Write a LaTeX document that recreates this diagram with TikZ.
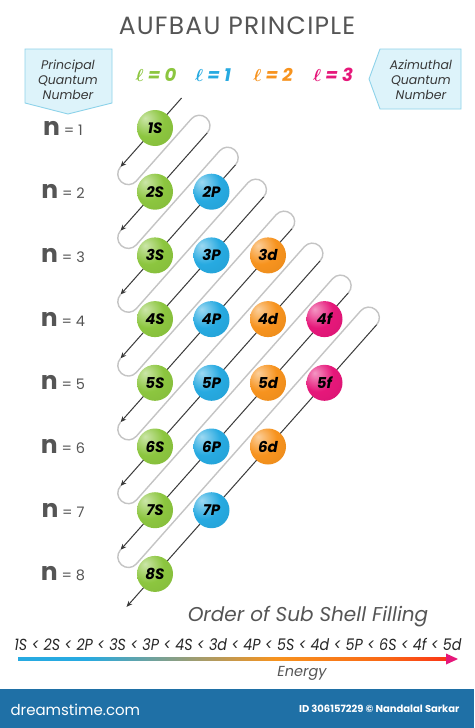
\documentclass[tikz,border=0pt]{standalone}
\usepackage{fontspec}
\setmainfont{Poppins}
\usetikzlibrary{arrows.meta,calc}
\definecolor{cS}{HTML}{8CC63F}
\definecolor{cP}{HTML}{27AAE1}
\definecolor{cD}{HTML}{F7931E}
\definecolor{cF}{HTML}{E6177A}
\definecolor{txt}{HTML}{555555}
\definecolor{boxfill}{HTML}{DDF3FA}
\definecolor{boxline}{HTML}{8ED3EA}
\definecolor{banner}{HTML}{1F70A6}
\definecolor{loopgrey}{HTML}{C4C4C4}
\definecolor{arrowblk}{HTML}{3A3A3A}
\colorlet{sph}{cS}
\pgfdeclareradialshading[sph]{sphere}{\pgfpoint{-14bp}{14bp}}{color(0bp)=(sph!45!white); color(22bp)=(sph); color(50bp)=(sph!92!black); color(72bp)=(sph!80!black)}
\pgfdeclarehorizontalshading{energy}{100bp}{color(0bp)=(cS); color(7bp)=(cS!50!cP); color(14bp)=(cP); color(33bp)=(cP); color(55bp)=(cD); color(68bp)=(cD!70!red); color(82bp)=(red!80!cF); color(100bp)=(cF)}
\begin{document}
\begin{tikzpicture}[x=1pt,y=-1pt,
  orb/.style={circle, minimum size=36pt, inner sep=0pt, /utils/exec={\colorlet{sph}{#1}}, shading=sphere, text=black, font=\fontsize{15}{15}\selectfont\bfseries\itshape},
  nlab/.style={text=txt, font=\fontsize{14.5}{14.5}\selectfont},
  llab/.style={text=#1, font=\fontsize{18}{18}\selectfont\itshape\bfseries\boldmath},
  callout/.style={draw=boxline, fill=boxfill, line width=0.9pt},
  calltext/.style={align=center, text=black!78, font=\fontsize{12.5}{15}\selectfont\itshape},
  diagline/.style={draw=arrowblk, line width=1pt, -{Stealth[length=6pt,width=5pt]}},
  hairpin/.style={draw=loopgrey, line width=1.4pt, rounded corners=10.5pt}]
\fill[white] (0,0) rectangle (474,728);
\useasboundingbox (0,0) rectangle (474,728);
% title
\node[text=txt, font=\fontsize{25}{25}\selectfont\addfontfeature{LetterSpace=5}] (title) at (237,26) {AUFBAU PRINCIPLE};
% callouts
\draw[callout] (25,49) -- (112,49) -- (112,103) -- (68,114) -- (25,103) -- cycle;
\node[calltext] (pqn) at (68,80) {Principal\\Quantum\\Number};
\draw[callout] (380,49) -- (461,49) -- (461,109) -- (380,109) -- (369,79) -- cycle;
\node[calltext] (aqn) at (421,80) {Azimuthal\\Quantum\\Number};
% l labels
\node[llab=cS] (l0) at (156,75) {$\ell$ = 0};
\node[llab=cP] (l1) at (213,75) {$\ell$ = 1};
\node[llab=cD] (l2) at (273,75) {$\ell$ = 2};
\node[llab=cF] (l3) at (333,75) {$\ell$ = 3};
% n labels
\foreach \r in {1,...,8}{
  \node[nlab] (n\r) at (63,{128+63.7*(\r-1)}) {{\fontsize{25}{25}\selectfont\bfseries n} = \r};
}
% snake path
\begin{scope}[shift={(155,128)}, x={(0.664pt,0.749pt)}, y={(0.749pt,-0.664pt)}]
  \foreach \k in {1,...,8}{
    \pgfmathsetmacro{\tk}{42.3*(\k-1)}
    \pgfmathsetmacro{\topk}{\k==1 ? 40 : 31-5.2*(\k-2)}
    \pgfmathsetmacro{\bk}{\k==8 ? -47.7*7-43 : -47.7*(\k-1)-52}
    \coordinate (T\k) at (\topk,\tk);
    \coordinate (B\k) at (\bk,\tk);
  }
  \foreach \k [evaluate=\k as \n using int(\k+1)] in {1,...,7}
    \draw[hairpin] (B\k) -- ++(-10.6,0) -- ++(0,21.15) -- ($(T\n)+(10.6,-21.15)$) -- ++(0,21.15) -- (T\n);
  \foreach \k in {1,...,8} \draw[diagline] (T\k) -- (B\k);
\end{scope}
% orbitals
\foreach \lab/\c/\r/\col in {1S/0/1/cS, 2S/0/2/cS, 2P/1/2/cP, 3S/0/3/cS, 3P/1/3/cP, 3d/2/3/cD,
  4S/0/4/cS, 4P/1/4/cP, 4d/2/4/cD, 4f/3/4/cF, 5S/0/5/cS, 5P/1/5/cP, 5d/2/5/cD, 5f/3/5/cF,
  6S/0/6/cS, 6P/1/6/cP, 6d/2/6/cD, 7S/0/7/cS, 7P/1/7/cP, 8S/0/8/cS}{
  \node[orb=\col] (o\lab) at ({155+56.5*\c},{128+63.7*(\r-1)}) {\lab};
}
% bottom
\node[text=txt, font=\fontsize{20}{20}\selectfont\itshape] (order) at (308,617) {Order of Sub Shell Filling};
\node[text=black!85, font=\fontsize{16}{16}\selectfont\itshape] (seq) at (238,644) {\scalebox{0.89}[1]{1S < 2S < 2P < 3S < 3P < 4S < 3d < 4P < 5S < 4d < 5P < 6S < 4f < 5d}};
\coordinate (e0) at (18,659);
\coordinate (e1) at (447,659);
\shade[shading=energy] ($(e0)+(0,-1.4)$) rectangle ($(e1)+(0,1.4)$);
\fill[cF] ($(e1)+(-1,-5.5)$) -- ($(e1)+(11,0)$) -- ($(e1)+(-1,5.5)$) -- cycle;
\node[text=txt, font=\fontsize{14.5}{14.5}\selectfont\itshape] (energy) at (302,673) {Energy};
% banner
\fill[banner] (0,689) rectangle (474,728);
\node[anchor=west, text=white, font=\fontsize{15}{15}\selectfont] (ds) at (7,710) {dreamstime.com};
\node[anchor=east, text=white, font=\fontsize{10}{10}\selectfont\bfseries] (id) at (463,709) {ID 306157229 © Nandalal Sarkar};
\end{tikzpicture}
\end{document}
